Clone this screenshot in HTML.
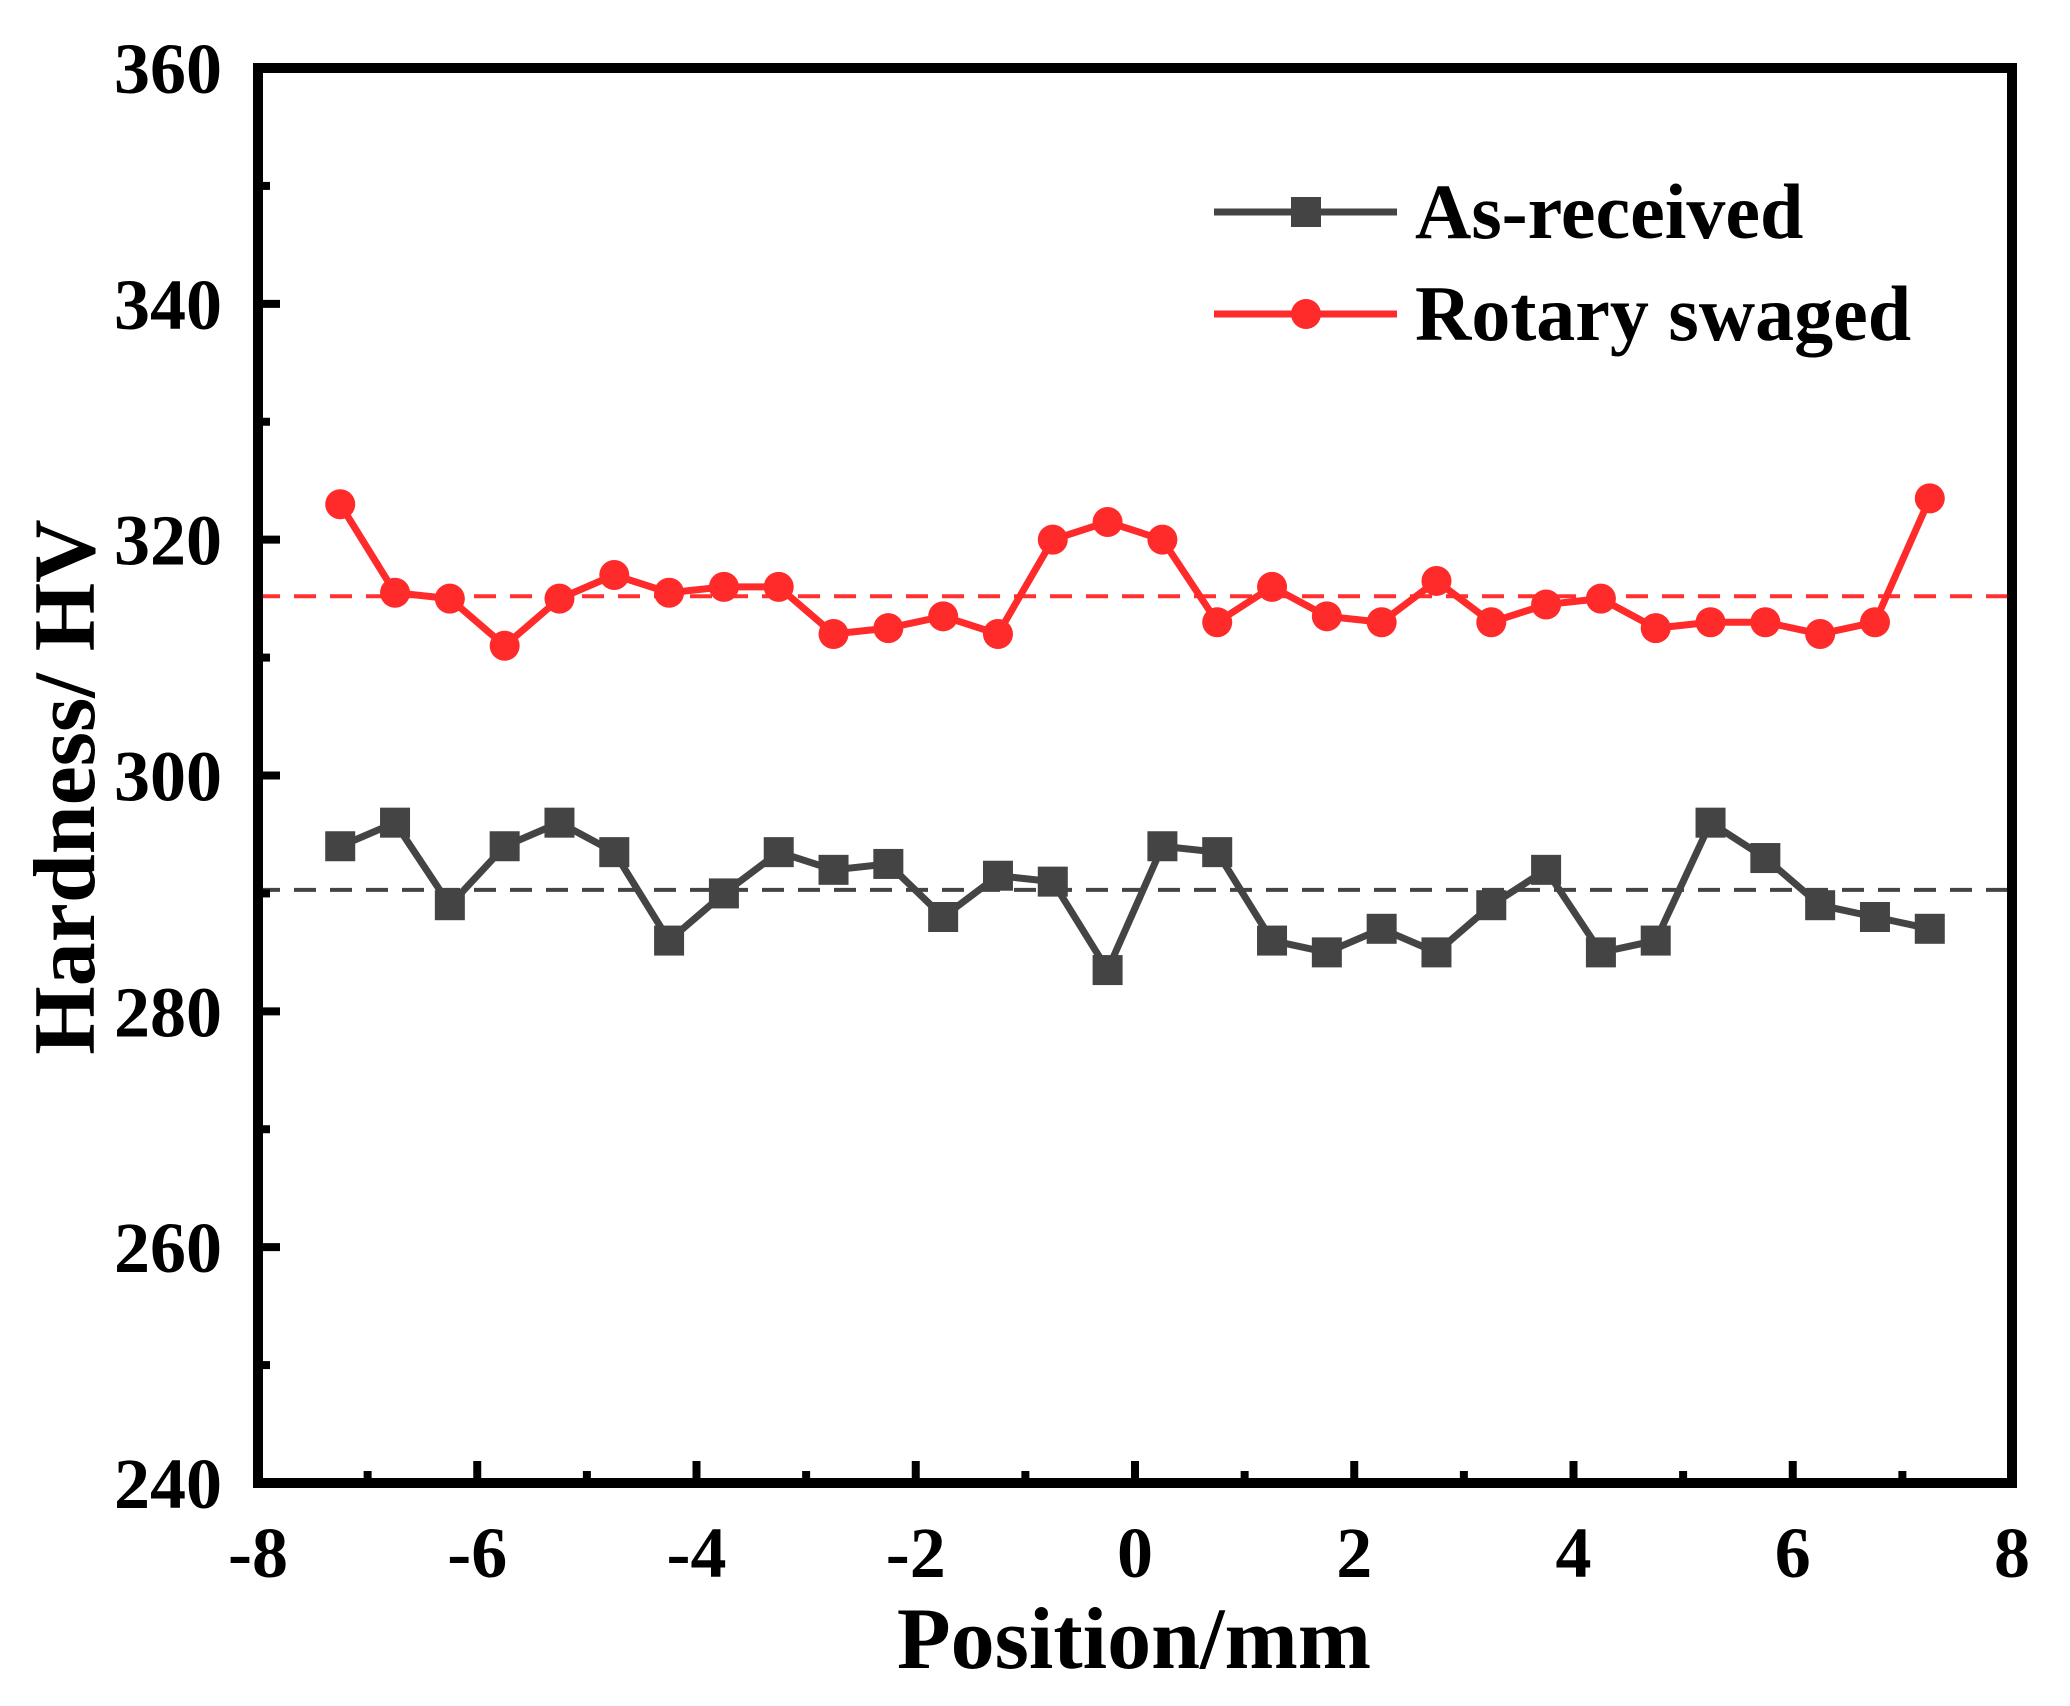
<!DOCTYPE html>
<html><head><style>body{margin:0;background:#fff}svg{display:block}</style></head>
<body>
<svg width="2070" height="1706" xmlns="http://www.w3.org/2000/svg" font-family="'Liberation Serif',serif" font-weight="bold">
<g id="g"></g>
</svg>
<script>
const X0=258,X1=2012,Y0=1483,Y1=68;
const sx=v=>X0+(v+8)*(X1-X0)/16, sy=v=>Y0-(v-240)*(Y0-Y1)/120;
const red=[323,315.5,315,311,315,317,315.5,316,316,312,312.5,313.5,312,320,321.5,320,313,316,313.5,313,316.5,313,314.5,315,312.5,313,313,312,313,323.5];
const blk=[294,296,289,294,296,293.5,286,290,293.5,292,292.5,288,291.5,291,283.5,294,293.5,286,285,287,285,289,292,285,286,296,293,289,288,287];
let s='';
s+=`<line x1="${X0}" x2="${X1}" y1="${sy(315.2)}" y2="${sy(315.2)}" stroke="#ff3030" stroke-width="4" stroke-dasharray="22,14"/>`;
s+=`<line x1="${X0}" x2="${X1}" y1="${sy(290.3)}" y2="${sy(290.3)}" stroke="#444" stroke-width="4" stroke-dasharray="22,14"/>`;
const xs=[...Array(30)].map((_,i)=>-7.25+i*0.5);
s+=`<polyline fill="none" stroke="#444" stroke-width="7" points="${xs.map((x,i)=>sx(x)+','+sy(blk[i])).join(' ')}"/>`;
xs.forEach((x,i)=>s+=`<rect x="${sx(x)-15}" y="${sy(blk[i])-15}" width="30" height="30" fill="#444"/>`);
s+=`<polyline fill="none" stroke="#ff2a2a" stroke-width="7" points="${xs.map((x,i)=>sx(x)+','+sy(red[i])).join(' ')}"/>`;
xs.forEach((x,i)=>s+=`<circle cx="${sx(x)}" cy="${sy(red[i])}" r="15" fill="#ff2a2a"/>`);
s+=`<rect x="${X0}" y="${Y1}" width="${X1-X0}" height="${Y0-Y1}" fill="none" stroke="#000" stroke-width="10"/>`;
for(let v=-8;v<=8;v+=1){const x=sx(v),L=v%2==0?22:12;s+=`<line x1="${x}" x2="${x}" y1="${Y0}" y2="${Y0-L}" stroke="#000" stroke-width="8"/>`;
 if(v%2==0)s+=`<text x="${x}" y="1577" font-size="72" text-anchor="middle">${v}</text>`;}
for(let v=240;v<=360;v+=10){const y=sy(v),L=v%20==0?22:12;s+=`<line x1="${X0}" x2="${X0+L}" y1="${y}" y2="${y}" stroke="#000" stroke-width="8"/>`;
 if(v%20==0)s+=`<text x="222" y="${y+25}" font-size="72" text-anchor="end">${v}</text>`;}
s+=`<text x="1134" y="1668" font-size="88" text-anchor="middle">Position/mm</text>`;
s+=`<text transform="translate(94,787) rotate(-90)" font-size="88" text-anchor="middle">Hardness/ HV</text>`;
s+=`<line x1="1214" x2="1397" y1="212" y2="212" stroke="#444" stroke-width="7"/><rect x="1291" y="197" width="30" height="30" fill="#444"/>`;
s+=`<text x="1415" y="238" font-size="78">As-received</text>`;
s+=`<line x1="1214" x2="1397" y1="314" y2="314" stroke="#ff2a2a" stroke-width="7"/><circle cx="1306" cy="314" r="15" fill="#ff2a2a"/>`;
s+=`<text x="1415" y="340" font-size="78">Rotary swaged</text>`;
document.getElementById('g').innerHTML=s;
</script>
</body></html>
